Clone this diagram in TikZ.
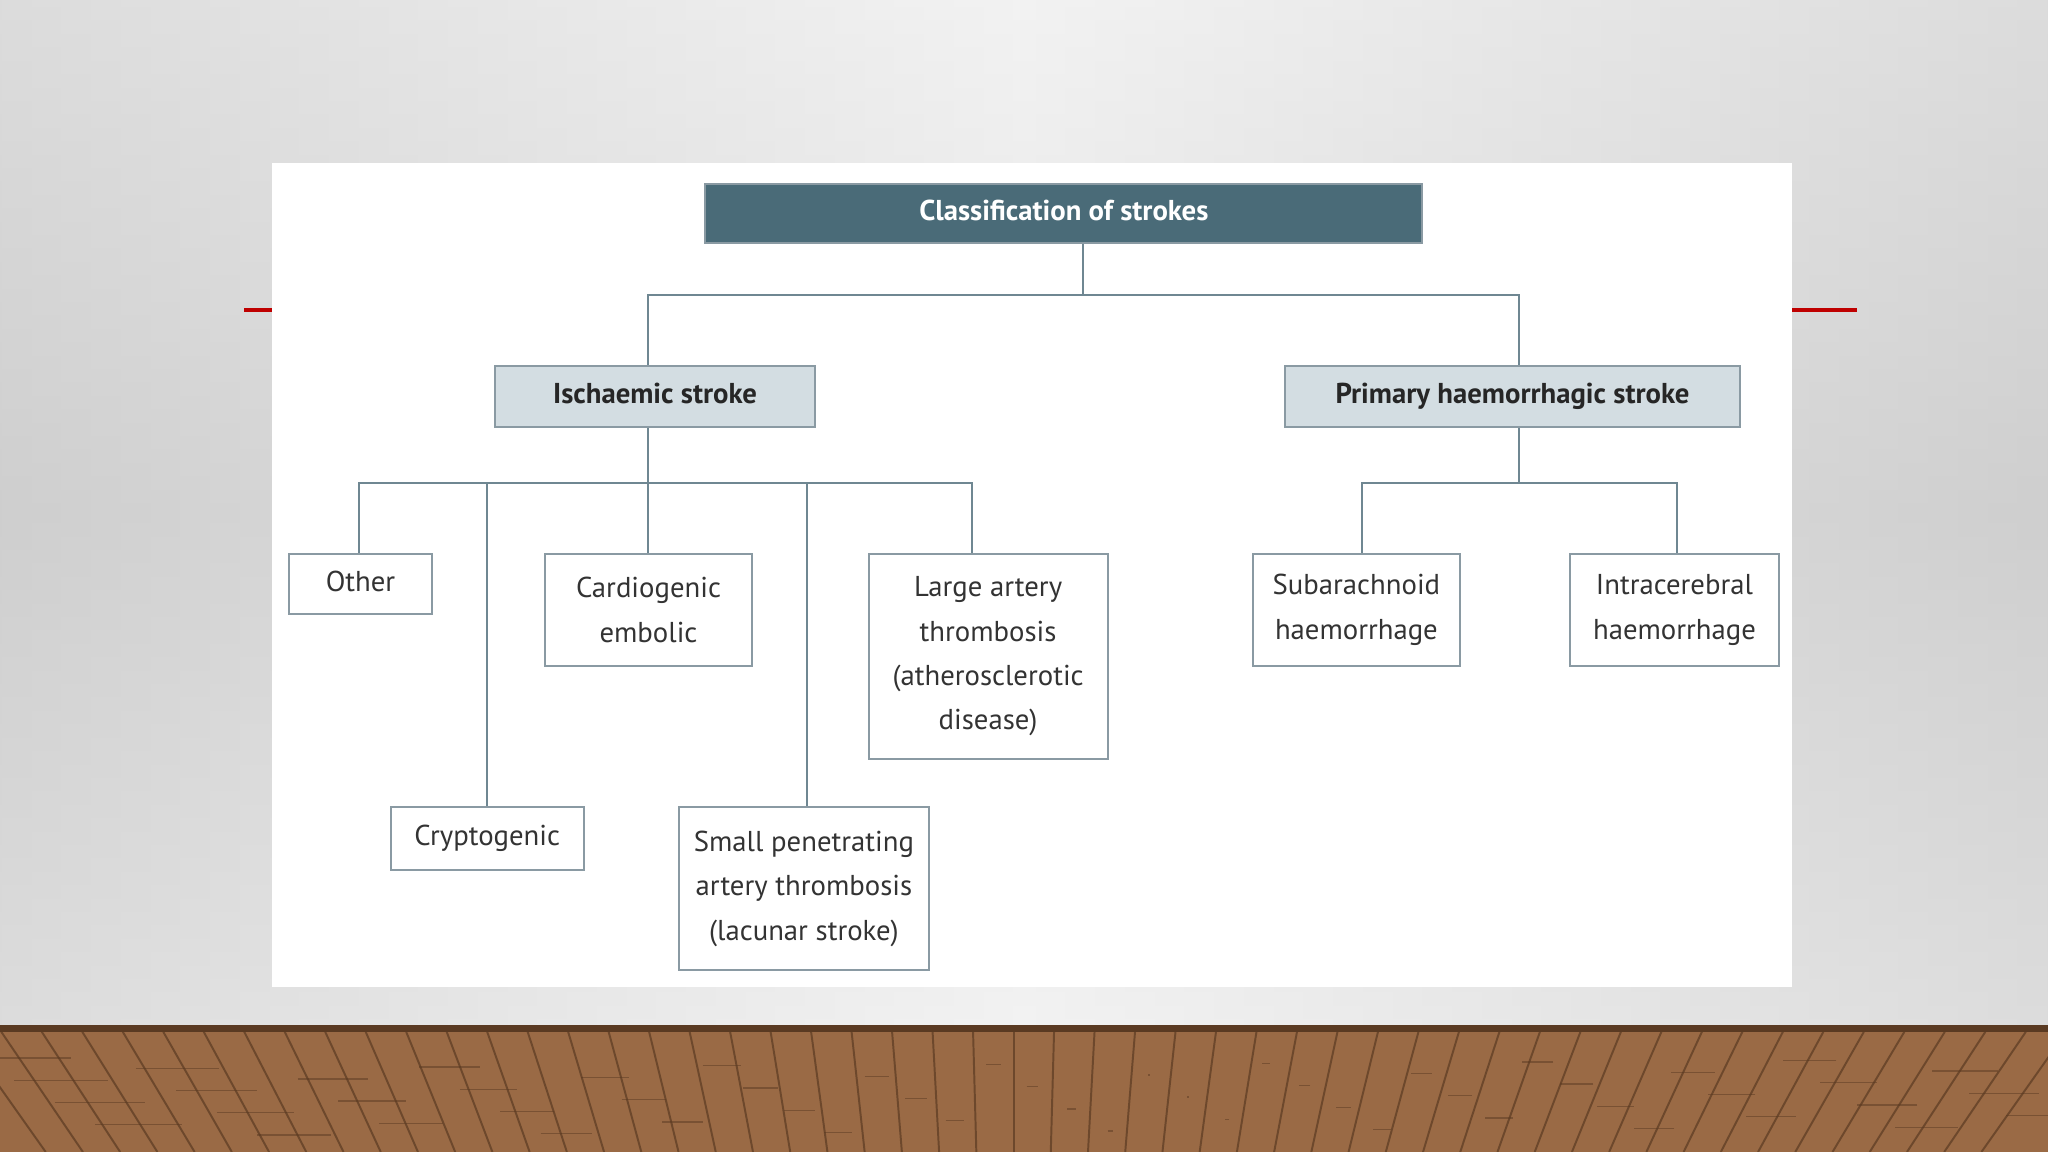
\documentclass[tikz,border=0pt]{standalone}
\usepackage{fontspec}
\setmainfont{PT Sans}
\begin{document}
\begin{tikzpicture}[x=1pt,y=-1pt,
  box/.style={draw=boxb,line width=1.5pt,fill=white,align=center,inner sep=0pt,font=\fontsize{22}{34}\selectfont,text=black!80},
  one/.style={text height=16pt,text depth=5pt},
  head/.style={box,one,fill=headf,font=\fontsize{22}{26}\selectfont\bfseries,text=black!85},
  conn/.style={draw=linec,line width=1.8pt}]
\definecolor{boxb}{HTML}{8A9AA3}
\definecolor{linec}{HTML}{6F8792}
\definecolor{headf}{HTML}{D3DDE2}
\definecolor{titlef}{HTML}{4A6B78}
\definecolor{wood}{HTML}{9A6A45}
\definecolor{woodd}{HTML}{5A3A22}
\useasboundingbox (0,0) rectangle (1568,882);
% wall
\shade[left color=gray!42,right color=gray!42,middle color=gray!15] (0,0) rectangle (1568,785);
\shade[top color=white,bottom color=white,opacity=0.35,middle color=gray!30] (0,0) rectangle (1568,785);
% floor
\fill[wood] (0,785) rectangle (1568,882);
\fill[woodd] (0,785) rectangle (1568,790);
\foreach \i in {0,...,52}{\draw[woodd,line width=1.5pt,opacity=0.7] ({\i*31-30},790) -- ({\i*31-30-(\i-26)*2.5},882);}
\foreach \i in {0,...,52}{\draw[woodd,line width=1pt,opacity=0.5] ({\i*31-20},{810+mod(\i*17,60)}) -- ({\i*31-11-(\i-26)*2.5},{810+mod(\i*17,60)});}
% red lines
\draw[red!75!black,line width=3pt] (187,237) -- (208,237) (1372,237) -- (1422,237);
% panel
\fill[white] (208,125) rectangle (1372,756);
% nodes
\node[box,one,fill=titlef,text=white,font=\fontsize{22}{26}\selectfont\bfseries,minimum width=549pt,minimum height=45pt] (title) at (814.5,163.5) {Classification of strokes};
\node[head,minimum width=245pt,minimum height=47pt] (isch) at (501.5,303.5) {Ischaemic stroke};
\node[head,minimum width=348pt,minimum height=47pt] (prim) at (1158,303.5) {Primary haemorrhagic stroke};
\node[box,one,minimum width=110pt,minimum height=46pt] (other) at (276,447) {Other};
\node[box,minimum width=159pt,minimum height=86pt] (cardio) at (496.5,467) {Cardiogenic\\embolic};
\node[box,minimum width=183pt,minimum height=157pt] (large) at (756.5,502.5) {Large artery\\thrombosis\\(atherosclerotic\\disease)};
\node[box,one,minimum width=148pt,minimum height=48pt] (crypto) at (373,642) {Cryptogenic};
\node[box,minimum width=191pt,minimum height=125pt] (small) at (615.5,680.5) {Small penetrating\\artery thrombosis\\(lacunar stroke)};
\node[box,minimum width=159pt,minimum height=86pt] (sub) at (1038.5,467) {Subarachnoid\\haemorrhage};
\node[box,minimum width=160pt,minimum height=86pt] (intra) at (1282,467) {Intracerebral\\haemorrhage};
% connectors
\coordinate (t1) at (829,226);
\draw[conn] (title.south -| t1) -- (t1);
\draw[conn] (isch.north -| 496,0) |- (t1) -| (prim.north -| 1163,0);
\coordinate (i1) at (496,370);
\draw[conn] (isch.south -| i1) -- (i1);
\draw[conn] (other.north -| 275,0) |- (i1) -| (large.north -| 744,0);
\draw[conn] (i1) -- (cardio.north -| i1);
\draw[conn] (crypto.north) -- (crypto.north |- i1);
\draw[conn] (small.north -| 618,0) -- (618,370);
\coordinate (p1) at (1163,370);
\draw[conn] (prim.south -| p1) -- (p1);
\draw[conn] (sub.north -| 1043,0) |- (p1) -| (intra.north -| 1284,0);
\end{tikzpicture}
\end{document}
